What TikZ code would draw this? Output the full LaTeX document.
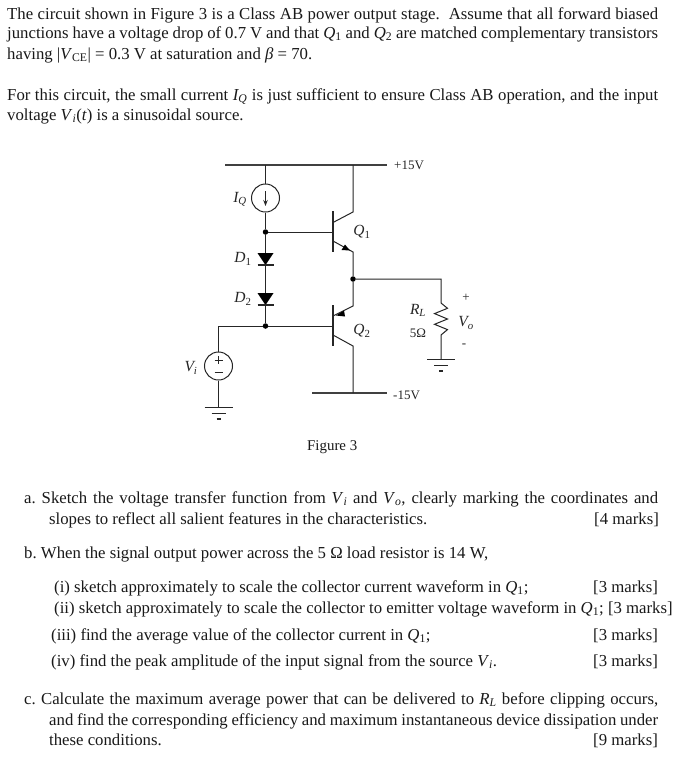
\documentclass[tikz,border=0pt]{standalone}
\usepackage{fontspec}
\setmainfont{Liberation Serif}
\usetikzlibrary{arrows.meta,calc}
\newcommand{\vr}[1]{\textit{#1}}
\newcommand{\sbs}[1]{\textsubscript{#1}}
\frenchspacing
\tikzset{
  wire/.style={line width=1pt,draw=black!85},
  rail/.style={line width=1.3pt,draw=black!75},
  srcring/.style={circle,draw=black!85,line width=1pt,minimum size=28pt,inner sep=0pt,fill=white},
  dot/.style={circle,fill=black,inner sep=0pt,minimum size=5.5pt},
  txt/.style={anchor=base west,inner sep=0pt,font=\fontsize{16.75pt}{19pt}\selectfont,text=black!90},
  figtxt/.style={anchor=base west,inner sep=0pt,font=\fontsize{14.9pt}{17pt}\selectfont,text=black!90},
  lbl/.style={inner sep=0pt,font=\fontsize{13pt}{15pt}\selectfont,text=black!85},
  ilbl/.style={inner sep=0pt,font=\fontsize{15.5pt}{17pt}\selectfont,text=black!85},
  ground/.style={wire},
}
\newcommand{\jl}[4]{\node[txt] (#1) at (#2,#3) {\makebox[\dimexpr 658pt-#2pt\relax][s]{#4}};}
\newcommand{\pl}[4]{\node[txt] (#1) at (#2,#3) {#4};}
\begin{document}
\begin{tikzpicture}[x=1pt,y=-1pt]
\useasboundingbox (0,0) rectangle (673,761);
\fill[white] (0,0) rectangle (673,761);
% ---- text
\jl{t1}{7}{19}{The circuit shown in Figure 3 is a Class AB power output stage.\ \ Assume that all forward biased}
\jl{t2}{7}{38}{junctions have a voltage drop of 0.7 V and that \vr{Q}\sbs{1} and \vr{Q}\sbs{2} are matched complementary transistors}
\pl{t3}{7}{59}{having |\vr{V}\sbs{CE}| = 0.3 V at saturation and \vr{β} = 70.}
\jl{t4}{7}{100}{For this circuit, the small current \vr{I\sbs{Q}} is just sufficient to ensure Class AB operation, and the input}
\pl{t5}{7}{120}{voltage \vr{V}\sbs{\textit{i}}(\vr{t}) is a sinusoidal source.}
\node[figtxt] (fig) at (307,450) {Figure 3};
\jl{a1}{24}{503}{a. Sketch the voltage transfer function from \vr{V}\sbs{\textit{i}} and \vr{V}\sbs{\textit{o}}, clearly marking the coordinates and}
\pl{a2}{49}{524}{slopes to reflect all salient features in the characteristics.}
\pl{am}{594}{524}{[4 marks]}
\pl{b1}{24}{558}{b. When the signal output power across the 5 Ω load resistor is 14 W,}
\pl{b2}{54}{592}{(i) sketch approximately to scale the collector current waveform in \vr{Q}\sbs{1};}
\pl{b2m}{593}{592}{[3 marks]}
\pl{b3}{54}{613}{(ii) sketch approximately to scale the collector to emitter voltage waveform in \vr{Q}\sbs{1}; [3 marks]}
\pl{b4}{51}{640}{(iii) find the average value of the collector current in \vr{Q}\sbs{1};}
\pl{b4m}{593}{640}{[3 marks]}
\pl{b5}{51}{666}{(iv) find the peak amplitude of the input signal from the source \vr{V}\sbs{\textit{i}}.}
\pl{b5m}{593}{666}{[3 marks]}
\jl{c1}{24}{704}{c. Calculate the maximum average power that can be delivered to \vr{R\sbs{L}} before clipping occurs,}
\jl{c2}{49}{725}{and find the corresponding efficiency and maximum instantaneous device dissipation under}
\pl{c3}{49}{745}{these conditions.}
\pl{cm}{593}{745}{[9 marks]}
% ---- circuit coordinates
\coordinate (railL) at (225,165);
\coordinate (railT) at (265.5,165);
\coordinate (railC) at (353,165);
\coordinate (railR) at (387,165);
\coordinate (nrailL) at (312,393);
\coordinate (nrailC) at (353,393);
\coordinate (nrailR) at (387,393);
\node[srcring] (iq) at (265.5,198) {};
\node[dot] (nb) at (265.5,232) {};
\node[dot] (nv) at (265.5,326) {};
\node[dot] (ne) at (353,279) {};
\coordinate (d1t) at (265.5,253); \coordinate (d1b) at (265.5,265);
\coordinate (d2t) at (265.5,293); \coordinate (d2b) at (265.5,305);
% rails
\draw[rail] (railL) -- (railR);
\draw[rail] (nrailL) -- (nrailR);
% left stack
\draw[wire] (railT) -- (iq);
\draw[wire] (iq) -- (nb);
\draw[wire] (nb) -- (d1t);
\draw[wire] (d1b) -- (d2t);
\draw[wire] (d2b) -- (nv);
\foreach \a/\b in {d1t/d1b,d2t/d2b}{
  \fill[black] ($(\a)+(-8,0)$) -- ($(\a)+(8,0)$) -- (\b) -- cycle;
  \draw[wire,line width=1.2pt] ($(\b)+(-8,0)$) -- ($(\b)+(8,0)$);
}
\draw[wire,-{Stealth[length=6pt,width=4.5pt]}] (265.5,191) -- (265.5,206);
% Q1
\coordinate (q1bar) at (333,232);
\coordinate (q1c) at (353,212);
\coordinate (q1ci) at (333,222.5);
\coordinate (q1e) at (353,252);
\coordinate (q1ei) at (333,241);
\draw[wire,line width=1.3pt] (333,211) -- (333,252);
\draw[wire] (nb) -- (q1bar);
\draw[wire] (railC) -- (q1c) -- (q1ci);
\draw[wire] (q1ei) -- (q1e) -- (ne);
\fill[black] (350,250.5) -- (341.5,250) -- (345,244.5) -- cycle;
% Q2
\coordinate (q2bar) at (333,326);
\coordinate (q2e) at (353,306);
\coordinate (q2ei) at (333,316);
\coordinate (q2c) at (353,346);
\coordinate (q2ci) at (333,335);
\draw[wire,line width=1.3pt] (333,305) -- (333,346);
\draw[wire] (nv) -- (q2bar);
\draw[wire] (ne) -- (q2e) -- (q2ei);
\draw[wire] (q2ci) -- (q2c) -- (nrailC);
\fill[black] (336,315.5) -- (344,310.5) -- (345,316.5) -- cycle;
% load
\coordinate (lt) at (441,279);
\coordinate (rt) at (441,303);
\coordinate (rb) at (441,335);
\coordinate (gl) at (441,359);
\draw[wire] (ne) -- (lt) -- (rt)
  -- (447.5,308.3) -- (434.5,313.6) -- (447.5,319) -- (434.5,324.3) -- (447.5,329.6) -- (rb) -- (gl);
\draw[ground] (427,359) -- (455,359) (434,365) -- (448,365);
\draw[ground,line width=1.2pt] (439,371) -- (443,371);
% source
\node[srcring] (vs) at (218.5,366) {};
\coordinate (vst) at (218.5,326);
\coordinate (vg) at (218.5,407);
\draw[wire] (nv) -- (vst) -- (vs);
\draw[wire] (vs) -- (vg);
\draw[ground] (204.5,407) -- (232.5,407) (211.5,413) -- (225.5,413);
\draw[ground,line width=1.2pt] (216.5,419) -- (220.5,419);
\draw[wire] (218.5,356) -- (218.5,364) (214.5,360) -- (222.5,360) (214.5,372.5) -- (222.5,372.5);
% labels
\node[lbl,anchor=west] (lp) at (394,165) {+15V};
\node[lbl,anchor=west] (lm) at (393,395) {-15V};
\node[ilbl] (liq) at (240,199) {\vr{I\sbs{Q}}};
\node[ilbl] (lq1) at (362,232) {\vr{Q}\sbs{1}};
\node[ilbl] (lq2) at (362,331) {\vr{Q}\sbs{2}};
\node[ilbl] (ld1) at (243,259) {\vr{D}\sbs{1}};
\node[ilbl] (ld2) at (243,299) {\vr{D}\sbs{2}};
\node[ilbl] (lrl) at (418,310) {\vr{R\sbs{L}}};
\node[lbl] (lr) at (418,333) {5Ω};
\node[ilbl] (lvo) at (466,323) {\vr{V\sbs{o}}};
\node[lbl] (lpl) at (466,298) {+};
\node[lbl] (lmi) at (464,346) {-};
\node[ilbl] (lvi) at (191,368) {\vr{V\sbs{i}}};
\end{tikzpicture}
\end{document}
